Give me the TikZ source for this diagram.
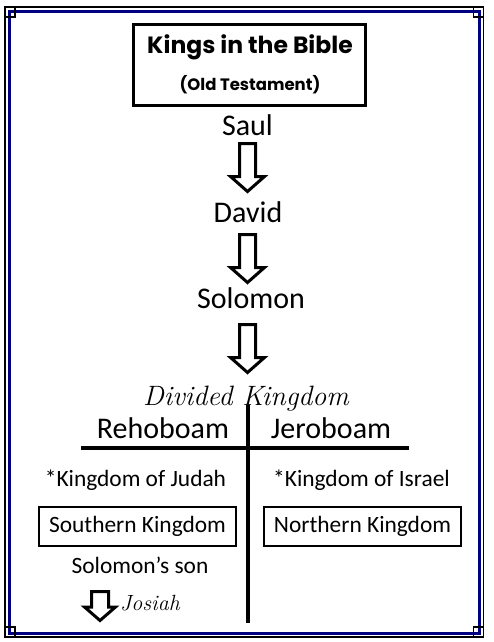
\documentclass[tikz,border=0pt]{standalone}
\usepackage{fontspec}
\newfontfamily\calibri{Carlito}
\newfontfamily\titlefont{Poppins}
\usetikzlibrary{calc}
\definecolor{bordernavy}{RGB}{0,0,128}
\tikzset{
  kingname/.style={font=\calibri\fontsize{30}{36}\selectfont, anchor=base, inner sep=0pt},
  note/.style={font=\calibri\fontsize{23.4}{28}\selectfont, anchor=base, inner sep=0pt},
  kingdombox/.style={draw, line width=2.2pt, minimum width=197pt, minimum height=39pt,
    inner sep=0pt, font=\calibri\fontsize{23.4}{28}\selectfont},
  handwritten/.style={font=\rmfamily\itshape\fontsize{28}{34}\selectfont, anchor=base, inner sep=0pt},
  pics/blockdown/.style n args={4}{code={
    \filldraw[fill=white, draw=black, line width=3pt, line join=miter, miter limit=10]
      (-#1,0) -- (#1,0) -- (#1,#3) -- (#2,#3) -- (0,#4) -- (-#2,#3) -- (-#1,#3) -- cycle;
  }},
}
\begin{document}
\begin{tikzpicture}[x=1pt, y=-1pt]
    \useasboundingbox (0,0) rectangle (493,642);

    % page border
    \draw[bordernavy, line width=3.5pt] (9.5,11.5) rectangle (479.5,633.5);
    \draw[black, line width=1.1pt] (5,7) rectangle (483.5,637);
    \draw[black, line width=1.1pt] (5,7) rectangle (15,17);
    \draw[black, line width=1.1pt] (473.5,7) rectangle (483.5,17);
    \draw[black, line width=1.1pt] (5,627) rectangle (15,637);
    \draw[black, line width=1.1pt] (473.5,627) rectangle (483.5,637);

    % title
    \node[draw, line width=3.5pt, minimum width=232pt, minimum height=81pt] (title) at (249.5,65) {};
    \node[font=\titlefont\bfseries\fontsize{23.5}{28}\selectfont, anchor=base, inner sep=0pt] (titletop) at (250,53) {Kings in the Bible};
    \node[font=\titlefont\bfseries\fontsize{16.5}{20}\selectfont, anchor=base, inner sep=0pt] (titlesub) at (250,90) {(Old Testament)};

    % united kingdom
    \node[kingname] (saul) at (247.5,135) {Saul};
    \node[kingname] (david) at (248,222) {David};
    \node[kingname] (solomon) at (251,308) {Solomon};
    \pic at ($(saul.base)+(0,8.5)$) {blockdown={8}{17}{33}{48}};
    \pic at ($(david.base)+(-0.5,12.5)$) {blockdown={8}{17}{33}{48}};
    \pic at ($(solomon.base)+(-3.5,16.5)$) {blockdown={8}{17}{33}{48}};

    % divided kingdom
    \node[handwritten] (divided) at (246,405) {Divided Kingdom};
    \coordinate (splittop) at (248,405);
    \coordinate (splitbot) at (248,623);
    \coordinate (barleft) at (81,448);
    \coordinate (barright) at (409,448);
    \draw[line width=3.5pt] (splittop) -- (splitbot);
    \draw[line width=3.5pt] (barleft) -- (barright);

    \node[kingname] (rehoboam) at (163,438) {Rehoboam};
    \node[kingname] (jeroboam) at (331,438) {Jeroboam};
    \node[note] (judah) at (135.5,486) {*Kingdom of Judah};
    \node[note] (israel) at (361.5,486) {*Kingdom of Israel};
    \node[kingdombox] (south) at (137.5,526.5) {Southern Kingdom};
    \node[kingdombox] (north) at (362.5,526.5) {Northern Kingdom};
    \node[note] (son) at (140,573) {Solomon’s son};
    \pic at ($(son.base)+(-40,18.5)$) {blockdown={8.5}{15.5}{15.5}{29}};
    \node[handwritten, font=\rmfamily\itshape\fontsize{22}{26}\selectfont] (josiah) at (150,610) {Josiah};
\end{tikzpicture}
\end{document}
